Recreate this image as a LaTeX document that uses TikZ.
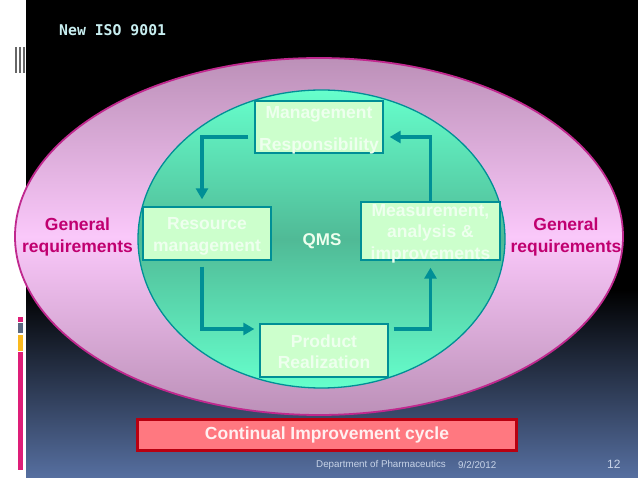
\documentclass[tikz,border=0pt]{standalone}
\usepackage{fontspec}
\setmainfont{Liberation Sans}
\newfontfamily\titlefont{DejaVu Sans Mono}
\usetikzlibrary{shapes.geometric,arrows.meta}
\definecolor{flowteal}{HTML}{008F96}
\definecolor{boxfill}{HTML}{CCFFCC}
\definecolor{boxtxt}{HTML}{EEFFEE}
\definecolor{genred}{HTML}{C00070}
\definecolor{outerline}{HTML}{C0288E}
\definecolor{outeredge}{HTML}{BC90B8}
\definecolor{outermid}{HTML}{FAC8FA}
\definecolor{inneredge}{HTML}{66FFCC}
\definecolor{innermid}{HTML}{50BA96}
\definecolor{footertxt}{HTML}{C8D4E8}
\definecolor{bgbottom}{HTML}{566FA0}
\definecolor{stripepink}{HTML}{DE1E78}
\definecolor{stripegray}{HTML}{5A6982}
\definecolor{stripeyellow}{HTML}{FAB91E}
\definecolor{titletxt}{HTML}{C8EEF0}
\definecolor{barline}{HTML}{B80010}
\definecolor{barfill}{HTML}{FF7880}
\definecolor{bartxt}{HTML}{FFF0F0}
\tikzset{
  outerell/.style={ellipse,draw=outerline,line width=1.8pt,inner sep=0pt,
    minimum width=608pt,minimum height=357pt,top color=outeredge,
    bottom color=outeredge,middle color=outermid},
  innerell/.style={ellipse,draw=flowteal,line width=1.3pt,inner sep=0pt,
    minimum width=367pt,minimum height=298pt,top color=inneredge,
    bottom color=inneredge,middle color=innermid},
  greenbox/.style={rectangle,draw=flowteal,line width=1.3pt,fill=boxfill,inner sep=0pt},
  boxlabel/.style={text=boxtxt,font=\bfseries\fontsize{17.5}{21.5}\selectfont,align=center,inner sep=0pt},
  genlabel/.style={text=genred,font=\bfseries\fontsize{17.5}{21.5}\selectfont,align=center,inner sep=0pt},
  flow/.style={draw=flowteal,line width=3.8pt,-{Triangle[length=11pt,width=12pt]}},
  footer/.style={font=\fontsize{9.8}{12}\selectfont,text=footertxt,inner sep=0pt},
}
\begin{document}
\begin{tikzpicture}[x=1pt,y=-1pt]
\useasboundingbox (0,0) rectangle (638,478);
\fill[white] (0,0) rectangle (638,478);
% slide background
\fill[black] (26,0) rectangle (638,290);
\shade[top color=black,bottom color=bgbottom] (26,289.5) rectangle (638,478);
% left decoration
\foreach \xa/\xb in {15/17.2,18.8/21,22.6/25}{\fill[black!60] (\xa,47) rectangle (\xb,73);}
\fill[stripepink] (18,317) rectangle (23,322);
\fill[stripegray] (18,323) rectangle (23,333);
\fill[stripeyellow] (18,335) rectangle (23,351);
\fill[stripepink] (18,352) rectangle (23,470);
% title
\node[anchor=west,inner sep=0pt,text=titletxt,font=\titlefont\bfseries\fontsize{14.8}{18}\selectfont] (title) at (59,30) {New ISO 9001};
% ellipses
\node[outerell] (outer) at (319,236.5) {};
\node[innerell] (inner) at (321.5,239) {};
% boxes
\node[greenbox,minimum width=128pt,minimum height=52pt] (mgmt) at (319,127) {};
\node[greenbox,minimum width=128pt,minimum height=53pt] (res) at (207,233.5) {};
\node[greenbox,minimum width=139pt,minimum height=58pt] (meas) at (430.5,231) {};
\node[greenbox,minimum width=128pt,minimum height=53pt] (prod) at (324,350.5) {};
% box labels
\node[boxlabel,yshift=-3pt] (mgmtT) at (mgmt.center) {Management\\[10.5pt]Responsibility};
\node[boxlabel,yshift=-3pt] (resT) at (res.center) {Resource\\management};
\node[boxlabel,yshift=-2.5pt] (measT) at (meas.center) {Measurement,\\analysis \&\\improvements};
\node[boxlabel,yshift=-1pt] (prodT) at (prod.center) {Product\\Realization};
\node[boxlabel,font=\bfseries\fontsize{17}{20}\selectfont] (qms) at (322,241) {QMS};
% general labels
\node[genlabel] (genL) at (77.5,237) {General\\requirements};
\node[genlabel] (genR) at (566,237) {General\\requirements};
% connectors
\draw[flow] ([xshift=-6pt,yshift=-10pt]mgmt.west) -| ([xshift=-5pt,yshift=7pt]res.north);
\draw[flow] ([xshift=-5pt,yshift=-6pt]res.south) |- ([xshift=-5pt,yshift=21.5pt]prod.west);
\draw[flow] ([xshift=5pt,yshift=21.5pt]prod.east) -| ([yshift=-7pt]meas.south);
\draw[flow] (meas.north) |- ([xshift=6pt,yshift=-10pt]mgmt.east);
% improvement bar
\node[rectangle,draw=barline,line width=2.8pt,fill=barfill,
  minimum width=379pt,minimum height=31pt,inner sep=0pt,
  text=bartxt,font=\bfseries\fontsize{17.5}{21}\selectfont] (cycle) at (327,435) {Continual Improvement cycle};
% footer
\node[footer,anchor=west] (dept) at (316,465) {Department of Pharmaceutics};
\node[footer,anchor=west] (date) at (458,465) {9/2/2012};
\node[footer,anchor=west,font=\fontsize{12}{14}\selectfont] (page) at (607,464) {12};
\end{tikzpicture}
\end{document}
